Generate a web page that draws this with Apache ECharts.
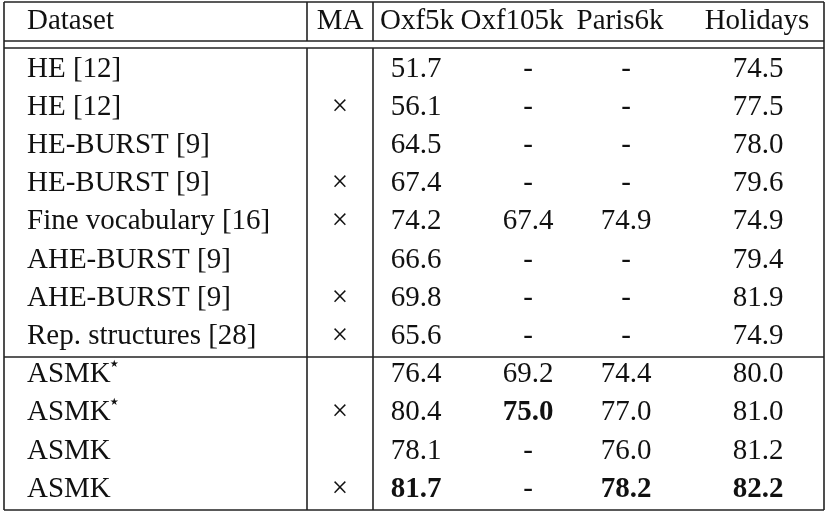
<!DOCTYPE html>
<html><head><meta charset="utf-8">
<script src="https://cdn.jsdelivr.net/npm/echarts@6/dist/echarts.min.js"></script>
<style>html,body{margin:0;padding:0;background:#fff}#c{width:828px;height:513px}</style>
</head><body><div id="c"></div>
<script>
const headers = ["Dataset","MA","Oxf5k","Oxf105k","Paris6k","Holidays"];
const methods = ["HE [12]","HE [12]","HE-BURST [9]","HE-BURST [9]","Fine vocabulary [16]","AHE-BURST [9]","AHE-BURST [9]","Rep. structures [28]","ASMK*","ASMK*","ASMK","ASMK"];
const ma = [false,true,false,true,true,false,true,true,false,true,false,true];
const oxf5k = ["51.7","56.1","64.5","67.4","74.2","66.6","69.8","65.6","76.4","80.4","78.1","81.7"];
const oxf105k = ["-","-","-","-","67.4","-","-","-","69.2","75.0","-","-"];
const paris6k = ["-","-","-","-","74.9","-","-","-","74.4","77.0","76.0","78.2"];
const holidays = ["74.5","77.5","78.0","79.6","74.9","79.4","81.9","74.9","80.0","81.0","81.2","82.2"];
const bold = [[11,2],[9,3],[11,4],[11,5]];

const colX = [27,340,416,528,626,758];
const headerX = [27,340,417,512,620,757];
const rowStep = 38.2, row0 = 69, headerY = 21;
const hLines = [[4,824,2],[4,824,41],[4,824,48],[4,824,357],[4,824,510]];
const vLines = [[4,2,510],[824,2,510],[307,2,41],[373,2,41],[307,48,510],[373,48,510]];

const cells = [];
headers.forEach((h,j)=>cells.push([headerX[j],headerY,h,j===0?'left':'center',false]));
methods.forEach((m,i)=>{
  const y = row0 + i*rowStep;
  const vals=[m, ma[i]?'×':'', oxf5k[i], oxf105k[i], paris6k[i], holidays[i]];
  vals.forEach((v,j)=>{
    const b = bold.some(p=>p[0]===i&&p[1]===j);
    cells.push([colX[j],y,v,j===0?'left':'center',b]);
  });
});
const lines = hLines.map(l=>[l[0],l[2],l[1],l[2]]).concat(vLines.map(l=>[l[0],l[1],l[0],l[2]]));
const FONT='29px "Liberation Serif"';

const ch = echarts.init(document.getElementById('c'));
ch.setOption({
  animation:false,
  grid:{left:0,right:0,top:0,bottom:0},
  xAxis:{type:'value',min:0,max:828,show:false},
  yAxis:{type:'value',min:0,max:513,inverse:true,show:false},
  series:[
    {type:'custom',data:lines,renderItem:(p,api)=>{
      const a=api.coord([api.value(0),api.value(1)]),b=api.coord([api.value(2),api.value(3)]);
      return {type:'line',shape:{x1:a[0],y1:a[1],x2:b[0],y2:b[1]},style:{stroke:'#222',lineWidth:1.6}};
    }},
    {type:'custom',data:cells,renderItem:(p,api)=>{
      const d=cells[p.dataIndex];const c=api.coord([d[0],d[1]]);
      let t=d[2];
      if(t.endsWith('*')){
        return {type:'group',children:[
          {type:'text',style:{x:c[0],y:c[1],text:t.slice(0,-1),fill:'#111',font:FONT,align:'left',verticalAlign:'middle'}},
          {type:'text',style:{x:c[0]+81,y:c[1]-10,text:'⋆',fill:'#111',font:'20px "DejaVu Serif"',align:'left',verticalAlign:'middle'}}
        ]};
      }
      return {type:'text',style:{x:c[0],y:c[1],text:t,fill:'#111',
        font:(d[4]?'bold ':'')+FONT,align:d[3],verticalAlign:'middle'}};
    }}
  ]
});
</script></body></html>
